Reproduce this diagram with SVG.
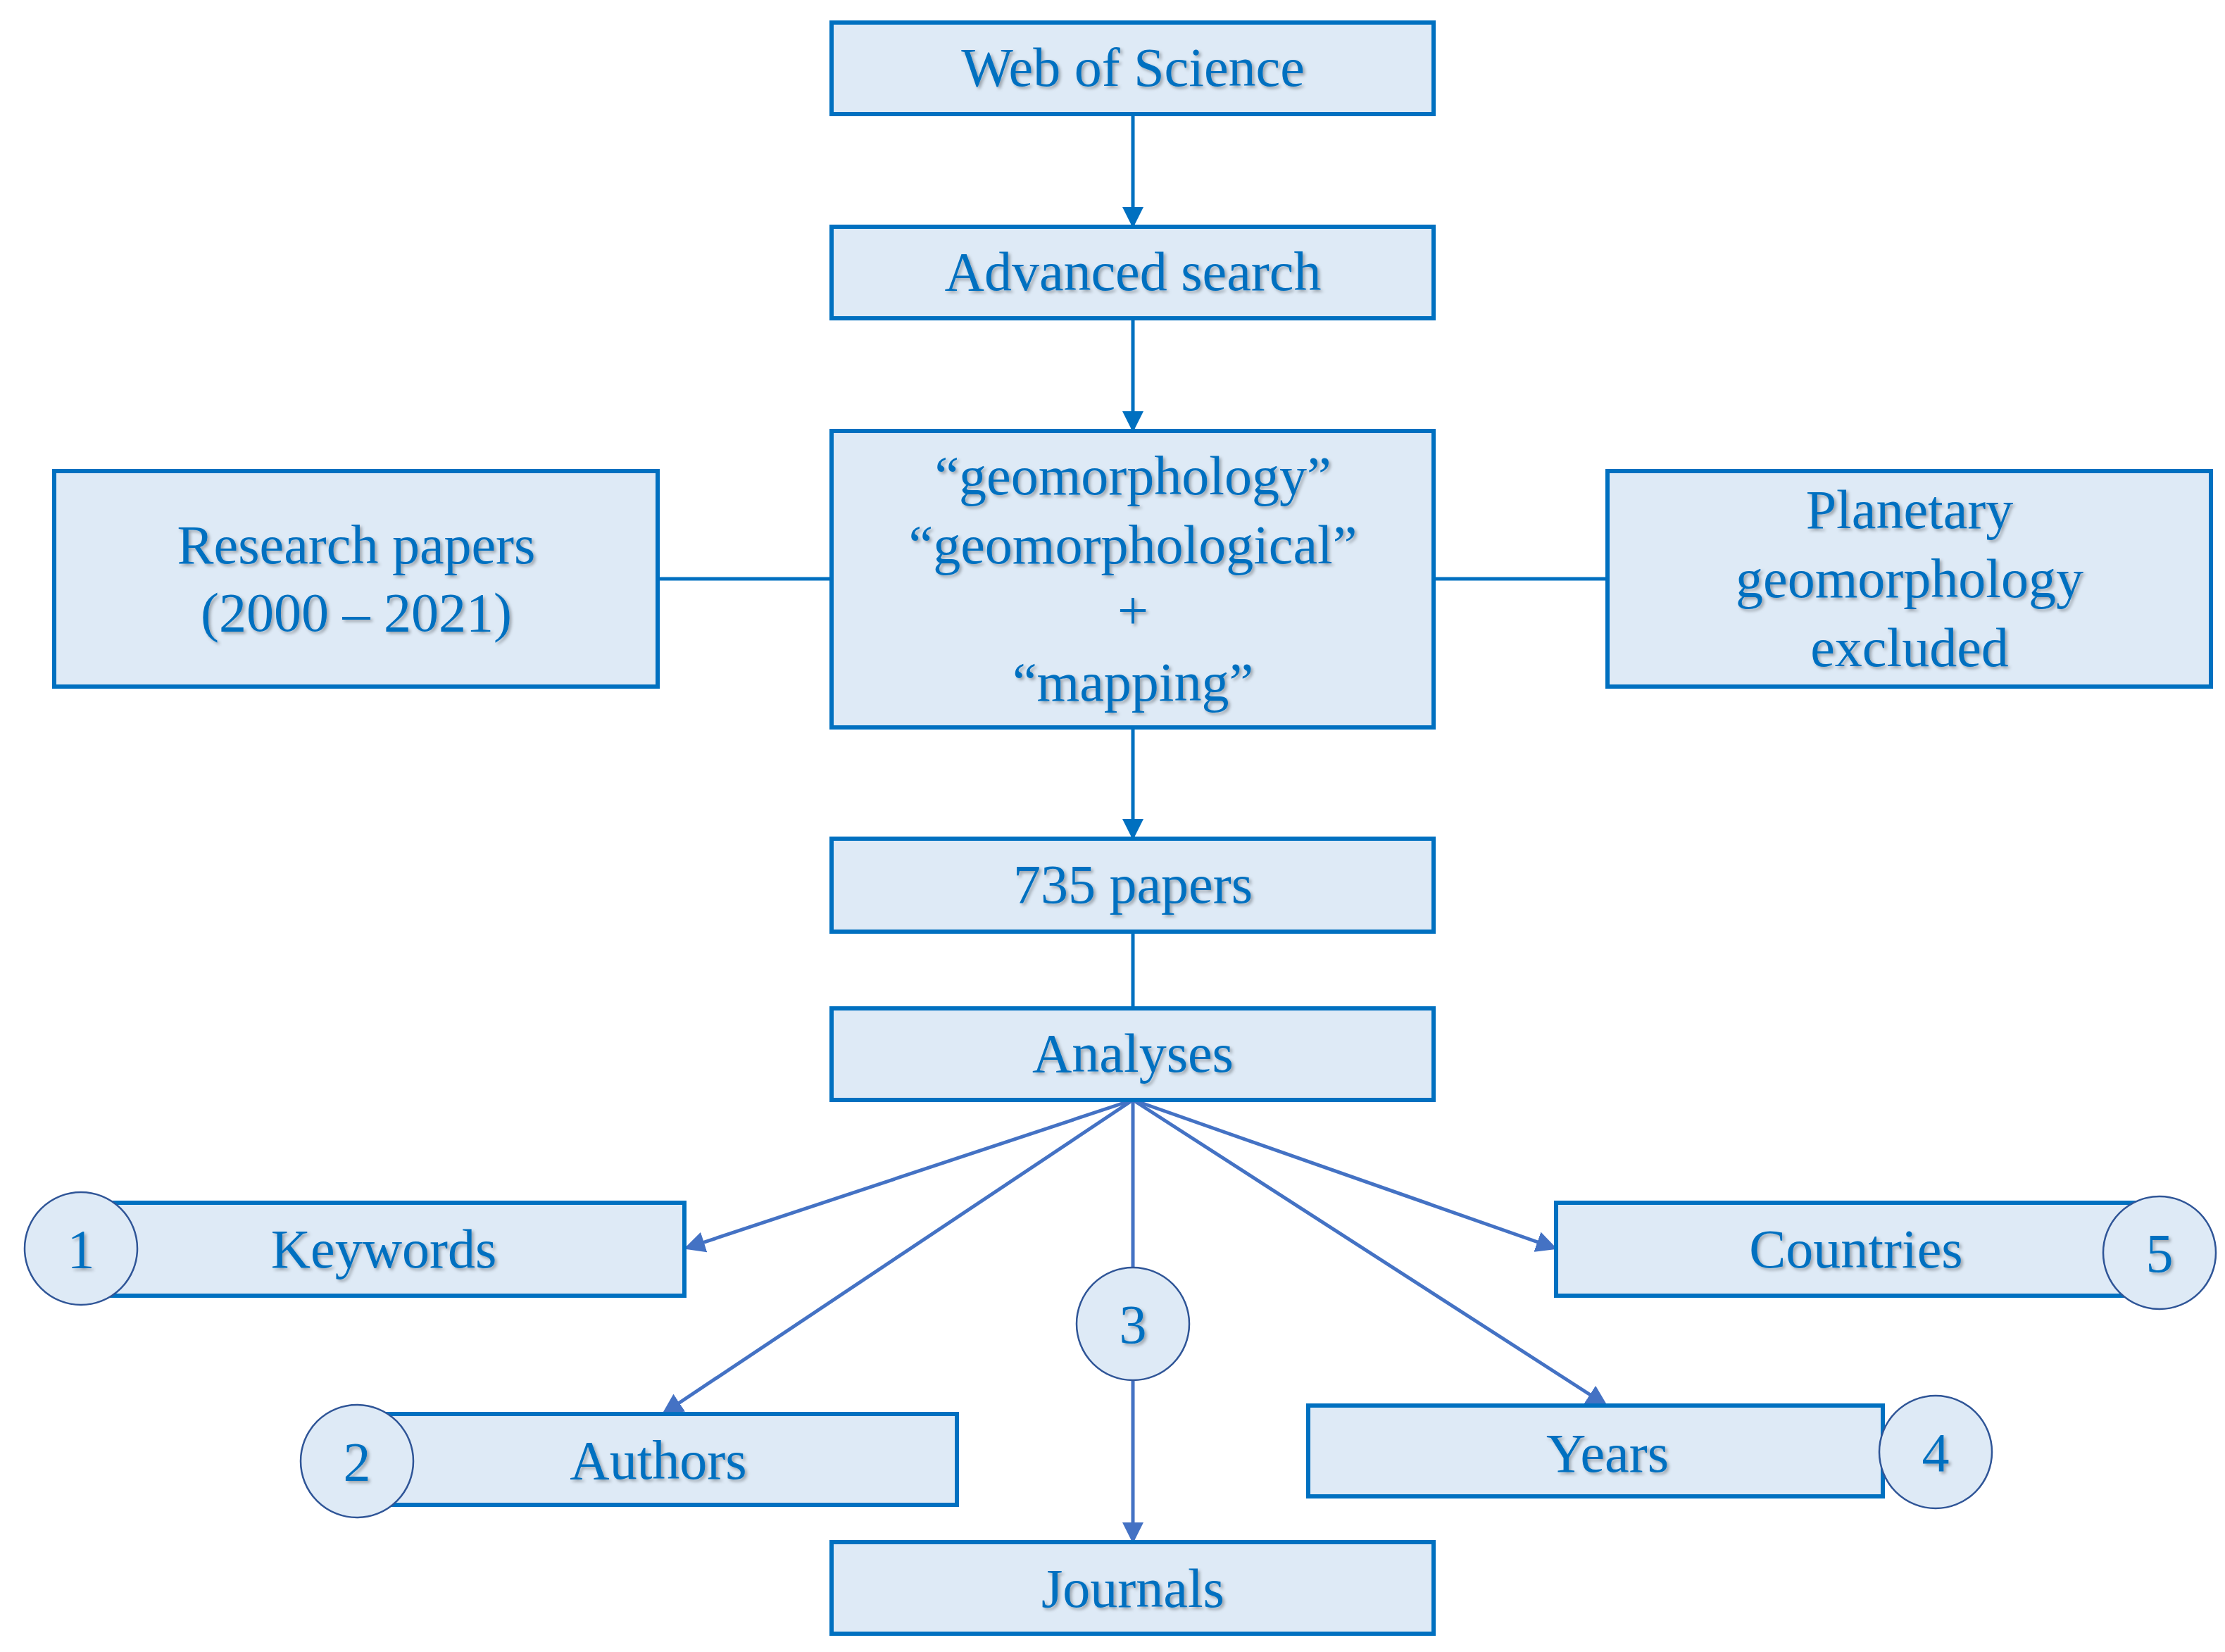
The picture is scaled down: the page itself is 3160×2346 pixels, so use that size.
<svg xmlns="http://www.w3.org/2000/svg" width="3160" height="2346" viewBox="0 0 3160 2346">
<defs>
<style>
.b{fill:#DEEAF6;stroke:#0070C0;stroke-width:6}
.c{fill:#DEEAF6;stroke:#2F5597;stroke-width:2.5}
.t{font-family:"Liberation Serif",serif;font-size:78px;fill:#0070C0;text-anchor:middle;filter:url(#sh)}
.l1{stroke:#0070C0;stroke-width:5;fill:none}
.l2{stroke:#4472C4;stroke-width:5;fill:none}
</style>
<filter id="sh" x="-10%" y="-10%" width="130%" height="140%"><feDropShadow dx="3" dy="3" stdDeviation="2" flood-color="#000" flood-opacity="0.3"/></filter>
<marker id="a1" markerWidth="6" markerHeight="6" refX="5" refY="3" orient="auto" markerUnits="strokeWidth"><path d="M0,0 L6,3 L0,6 z" fill="#0070C0"/></marker>
<marker id="a2" markerWidth="6" markerHeight="6" refX="5" refY="3" orient="auto" markerUnits="strokeWidth"><path d="M0,0 L6,3 L0,6 z" fill="#4472C4"/></marker>
</defs>
<g id="connectors">
<line class="l1" x1="1609" y1="162" x2="1609" y2="319" marker-end="url(#a1)"/>
<line class="l1" x1="1609" y1="452" x2="1609" y2="609" marker-end="url(#a1)"/>
<line class="l1" x1="934" y1="822" x2="1181" y2="822"/>
<line class="l1" x1="2036" y1="822" x2="2283" y2="822"/>
<line class="l1" x1="1609" y1="1033" x2="1609" y2="1188" marker-end="url(#a1)"/>
<line class="l1" x1="1609" y1="1323" x2="1609" y2="1432"/>
<line class="l2" x1="1609" y1="1562" x2="976" y2="1772" marker-end="url(#a2)"/>
<line class="l2" x1="1609" y1="1562" x2="944" y2="2006" marker-end="url(#a2)"/>
<line class="l2" x1="1609" y1="1562" x2="1609" y2="1800"/>
<line class="l2" x1="1609" y1="1960" x2="1609" y2="2187" marker-end="url(#a2)"/>
<line class="l2" x1="1609" y1="1562" x2="2279" y2="1994" marker-end="url(#a2)"/>
<line class="l2" x1="1609" y1="1562" x2="2207" y2="1772" marker-end="url(#a2)"/>
</g>
<g id="web"><rect class="b" x="1181" y="32" width="855" height="130"/><text class="t" x="1609" y="122">Web of Science</text></g>
<g id="adv"><rect class="b" x="1181" y="322" width="855" height="130"/><text class="t" x="1609" y="412">Advanced  search</text></g>
<g id="query"><rect class="b" x="1181" y="612" width="855" height="421"/>
<text class="t" x="1609" y="702">“geomorphology”</text>
<text class="t" x="1609" y="800">“geomorphological”</text>
<text class="t" x="1609" y="893">+</text>
<text class="t" x="1609" y="995">“mapping”</text></g>
<g id="research"><rect class="b" x="77" y="669" width="857" height="306"/>
<text class="t" x="506" y="800">Research papers</text><text class="t" x="506" y="896">(2000 – 2021)</text></g>
<g id="planetary"><rect class="b" x="2283" y="669" width="857" height="306"/>
<text class="t" x="2712" y="750">Planetary</text><text class="t" x="2712" y="848">geomorphology</text><text class="t" x="2712" y="946">excluded</text></g>
<g id="papers"><rect class="b" x="1181" y="1191" width="855" height="132"/><text class="t" x="1609" y="1282">735 papers</text></g>
<g id="analyses"><rect class="b" x="1181" y="1432" width="855" height="130"/><text class="t" x="1609" y="1522">Analyses</text></g>
<g id="keywords"><rect class="b" x="152" y="1708" width="820" height="132"/><text class="t" x="545" y="1800">Keywords</text>
<circle class="c" cx="115" cy="1773" r="80"/><text class="t" x="115" y="1800">1</text></g>
<g id="authors"><rect class="b" x="543" y="2008" width="816" height="129"/><text class="t" x="935" y="2100">Authors</text>
<circle class="c" cx="507" cy="2075" r="80"/><text class="t" x="507" y="2102">2</text></g>
<g id="n3"><circle class="c" cx="1609" cy="1880" r="80"/><text class="t" x="1609" y="1907">3</text></g>
<g id="journals"><rect class="b" x="1181" y="2190" width="855" height="130"/><text class="t" x="1609" y="2282">Journals</text></g>
<g id="years"><rect class="b" x="1858" y="1996" width="816" height="129"/><text class="t" x="2283" y="2090">Years</text>
<circle class="c" cx="2749" cy="2062" r="80"/><text class="t" x="2749" y="2089">4</text></g>
<g id="countries"><rect class="b" x="2210" y="1708" width="849" height="132"/><text class="t" x="2636" y="1800">Countries</text>
<circle class="c" cx="3067" cy="1779" r="80"/><text class="t" x="3067" y="1806">5</text></g>
</svg>
